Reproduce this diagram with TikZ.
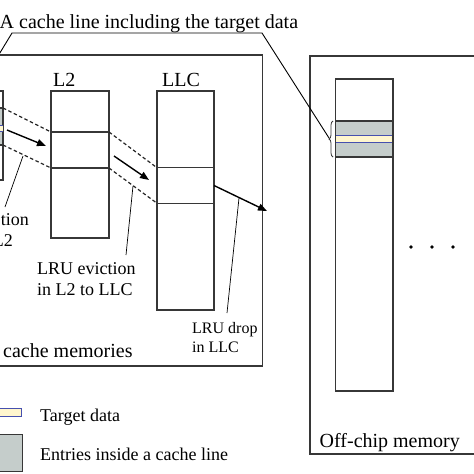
\documentclass[tikz,border=0pt]{standalone}
\usepackage{fontspec}
\setmainfont{Liberation Serif}
\usetikzlibrary{arrows.meta,decorations.pathreplacing}
\definecolor{linec}{RGB}{55,55,55}
\definecolor{entryc}{RGB}{197,205,203}
\definecolor{targetc}{RGB}{255,246,206}
\definecolor{bluec}{RGB}{70,80,175}
\begin{document}
\begin{tikzpicture}[x=1pt,y=-1pt,
 box/.style={draw=linec,line width=1.1pt},
 col/.style={draw=linec,line width=1.1pt,fill=white,inner sep=0pt,outer sep=0pt},
 cline/.style={draw=linec,line width=1.1pt,inner sep=0pt,outer sep=0pt},
 band/.style={fill=targetc,inner sep=0pt,outer sep=0pt},
 blueline/.style={draw=bluec,line width=0.8pt},
 dashline/.style={black!85,line width=1.2pt,dash pattern=on 3.5pt off 2.5pt},
 move/.style={black,line width=1.4pt,-{Triangle[length=9pt,width=7pt]}},
 pointer/.style={black,line width=0.7pt},
 lab/.style={inner sep=0pt,font=\fontsize{18}{21}\selectfont},
 smalllab/.style={inner sep=0pt,font=\fontsize{16}{19}\selectfont},
 big/.style={inner sep=0pt,font=\fontsize{20}{24}\selectfont}]

\useasboundingbox (0,0) rectangle (474,474);

% enclosing boxes
\draw[box] (-10,55) rectangle (262.5,366);
\draw[box] (310,56) rectangle (490,454);

% L1 (cut off)
\node[col,minimum width=23pt,minimum height=89pt] (l1) at (-8.5,135.5) {};
\node[cline,fill=entryc,minimum width=23pt,minimum height=37pt] (l1line) at (-8.5,126.5) {};
\node[band,minimum width=22pt,minimum height=6pt] (l1target) at (-8.5,128) {};
\draw[blueline] (l1target.north west) -- (l1target.north east);
\draw[blueline] (l1target.south west) -- (l1target.south east);

% L2
\node[col,minimum width=58pt,minimum height=147pt] (l2) at (80,164.5) {};
\node[cline,minimum width=58pt,minimum height=36pt] (l2line) at (80,150) {};
\node[big,anchor=base west] (l2lab) at (53,86) {L2};

% LLC
\node[col,minimum width=57pt,minimum height=219pt] (llc) at (185.5,200.5) {};
\node[cline,minimum width=57pt,minimum height=35.5pt] (llcline) at (185.5,185.5) {};
\node[big,anchor=base west] (llclab) at (162,86) {LLC};

% off-chip memory column
\node[col,minimum width=57.5pt,minimum height=312pt] (mem) at (364.25,235) {};
\node[cline,fill=entryc,minimum width=57.5pt,minimum height=36pt] (memline) at (364.25,139) {};
\node[band,minimum width=56.4pt,minimum height=7.3pt] (memtarget) at (364.25,138.65) {};
\draw[blueline] (memtarget.north west) -- (memtarget.north east);
\draw[blueline] (memtarget.south west) -- (memtarget.south east);
\draw[linec,line width=0.8pt,decorate,decoration={brace,amplitude=4pt}] (333,157) -- (333,121);
\coordinate (bracetip) at (329,138);

% dots
\fill (411,247) circle (1.8);
\fill (432,247) circle (1.8);
\fill (453,247) circle (1.8);

% dashed mapping lines
\draw[dashline] (l1line.north east) -- (l2line.north west);
\draw[dashline] (l1line.south east) -- (l2line.south west);
\draw[dashline] (l2line.north east) -- (llcline.north west);
\draw[dashline] (l2line.south east) -- (llcline.south west);

% movement arrows
\coordinate (a1s) at (7,130);
\coordinate (a1e) at (46,146);
\coordinate (a2s) at (114,156);
\coordinate (a2e) at (149,180);
\coordinate (a3e) at (267,211);
\draw[move] (a1s) -- (a1e);
\draw[move] (a2s) -- (a2e);
\draw[move] (llcline.east) -- (a3e);

% labels with pointers
\node[lab,anchor=base east] (t1a) at (29,225) {tion};
\node[lab,anchor=base east] (t1b) at (13,246) {L2};
\coordinate (p1a) at (5,207);
\coordinate (p1b) at (23,156);
\draw[pointer] (p1a) -- (p1b);

\node[lab,anchor=base west] (t2a) at (37,274) {LRU eviction};
\node[lab,anchor=base west] (t2b) at (37,295) {in L2 to LLC};
\coordinate (p2a) at (126,255);
\coordinate (p2b) at (133,186);
\draw[pointer] (p2a) -- (p2b);

\node[smalllab,anchor=base west] (t3a) at (192,333) {LRU drop};
\node[smalllab,anchor=base west] (t3b) at (192,352) {in LLC};
\coordinate (p3a) at (227,313);
\coordinate (p3b) at (239,198);
\draw[pointer] (p3a) -- (p3b);

% title callout
\node[big,anchor=base west] (title) at (-0.5,28) {A cache line including the target data};
\coordinate (c0) at (-5,61);
\coordinate (c1) at (12,33);
\coordinate (c2) at (262,33);
\draw[pointer,line width=0.9pt] (c0) -- (c1) -- (c2) -- (bracetip);

% box labels
\node[big,anchor=base west] (onchip) at (3,357) {cache memories};
\node[big,anchor=base west] (offchip) at (319.5,447) {Off-chip memory};

% legend
\node[fill=targetc,draw=bluec,line width=0.8pt,minimum width=26pt,minimum height=8pt,inner sep=0pt] (legt) at (8,412) {};
\node[fill=entryc,draw=linec,line width=1pt,minimum width=27pt,minimum height=37pt,inner sep=0pt] (lege) at (8.5,452.5) {};
\node[lab,anchor=base west] (legtl) at (40,421.5) {Target data};
\node[lab,anchor=base west] (legel) at (40,460) {Entries inside a cache line};
\end{tikzpicture}
\end{document}
